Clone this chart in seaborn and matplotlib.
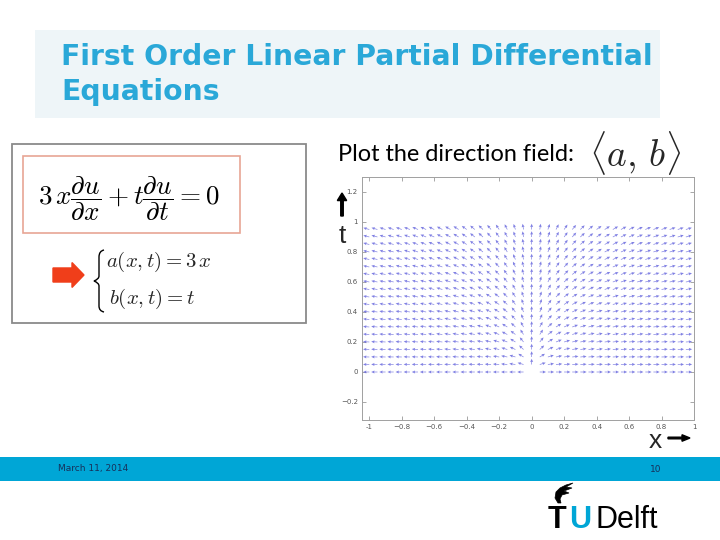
import numpy as np
import matplotlib.pyplot as plt
import seaborn as sns
from matplotlib.patches import Rectangle, FancyArrow, Polygon, PathPatch
from matplotlib.path import Path

sns.set_theme(style="white")
plt.rcParams['mathtext.fontset'] = 'cm'
plt.rcParams['font.family'] = ['DejaVu Sans']

# Grid of the direction field
x_grid = [-1.0, -0.95, -0.9, -0.85, -0.8, -0.75, -0.7, -0.65, -0.6, -0.55,
          -0.5, -0.45, -0.4, -0.35, -0.3, -0.25, -0.2, -0.15, -0.1, -0.05,
          0.0, 0.05, 0.1, 0.15, 0.2, 0.25, 0.3, 0.35, 0.4, 0.45,
          0.5, 0.55, 0.6, 0.65, 0.7, 0.75, 0.8, 0.85, 0.9, 0.95, 1.0]
t_grid = [0.0, 0.05, 0.1, 0.15, 0.2, 0.25, 0.3, 0.35, 0.4, 0.45,
          0.5, 0.55, 0.6, 0.65, 0.7, 0.75, 0.8, 0.85, 0.9, 0.95]
# coefficients of the PDE: a(x,t) = 3x, b(x,t) = t
a_coef = 3.0
b_coef = 1.0

x_ticks = [-1, -0.8, -0.6, -0.4, -0.2, 0, 0.2, 0.4, 0.6, 0.8, 1]
x_tick_labels = ['-1', '\u22120.8', '\u22120.6', '\u22120.4', '\u22120.2', '0',
                 '0.2', '0.4', '0.6', '0.8', '1']
t_ticks = [-0.2, 0, 0.2, 0.4, 0.6, 0.8, 1, 1.2]
t_tick_labels = ['\u22120.2', '0', '0.2', '0.4', '0.6', '0.8', '1', '1.2']

W, H = 720, 540


def fx(px):
    return px / W


def fy(py):
    return 1 - py / H


def fxy(pts):
    return [(fx(a), fy(b)) for a, b in pts]


fig = plt.figure(figsize=(7.2, 5.4), dpi=100)
fig.patch.set_facecolor('white')

# title bar
fig.patches.append(Rectangle((fx(35), fy(118)), fx(660) - fx(35), fy(30) - fy(118),
                             transform=fig.transFigure, facecolor='#eef5f8',
                             edgecolor='none', zorder=0))
fig.text(fx(61), fy(65), 'First Order Linear Partial Differential', color='#2aa8d8',
         fontsize=20.3, fontweight='bold', family='DejaVu Sans', va='baseline')
fig.text(fx(61), fy(100), 'Equations', color='#2aa8d8',
         fontsize=20.3, fontweight='bold', family='DejaVu Sans', va='baseline')

# left box with the equation
fig.patches.append(Rectangle((fx(12), fy(323)), fx(306) - fx(12), fy(144) - fy(323),
                             transform=fig.transFigure, facecolor='white',
                             edgecolor='#8a8a8a', lw=1.3, zorder=1))
fig.patches.append(Rectangle((fx(23), fy(233)), fx(240) - fx(23), fy(156) - fy(233),
                             transform=fig.transFigure, facecolor='white',
                             edgecolor='#e8a595', lw=1.2, zorder=2))
fig.text(fx(129), fy(199), r'$3\,x\dfrac{\partial u}{\partial x}+t\dfrac{\partial u}{\partial t}=0$',
         fontsize=19.5, ha='center', va='center', color='black', zorder=3)
fig.patches.append(FancyArrow(fx(53), fy(275), fx(19), 0, width=0.026,
                              head_width=0.046, head_length=fx(12),
                              length_includes_head=False,
                              transform=fig.transFigure, color='#f03e1a', zorder=3))
# curly brace
brace = [(104, 250), (99, 251), (99, 257), (99, 276), (99, 279), (94, 281),
         (99, 283), (99, 286), (99, 306), (99, 311), (104, 312)]
codes = [Path.MOVETO, Path.CURVE3, Path.CURVE3, Path.LINETO, Path.CURVE3, Path.CURVE3,
         Path.CURVE3, Path.CURVE3, Path.LINETO, Path.CURVE3, Path.CURVE3]
fig.patches.append(PathPatch(Path(fxy(brace), codes), transform=fig.transFigure,
                             facecolor='none', edgecolor='black', lw=1.0, zorder=3))
fig.text(fx(106), fy(262), r'$a(x,t)=3\,x$', fontsize=15, ha='left', va='center')
fig.text(fx(109), fy(299), r'$b(x,t)=t$', fontsize=15, ha='left', va='center')

# right header
fig.text(fx(338), fy(161), 'Plot the direction field:', fontsize=16.9, family='Lato',
         va='baseline', color='black')
fig.text(fx(589), fy(153), r'$\langle a,\, b\rangle$', fontsize=27, va='center')

# direction field axes
ax = fig.add_axes([fx(362), fy(420), fx(694) - fx(362), fy(177) - fy(420)])
X, T = np.meshgrid(x_grid, t_grid)
A = a_coef * X
B = b_coef * T
mag = np.hypot(A, B)
with np.errstate(invalid='ignore', divide='ignore'):
    U = np.ma.masked_invalid(A / mag)
    V = np.ma.masked_invalid(B / mag)
ax.quiver(X, T, U, V, angles='xy', scale_units='xy', scale=26, color='#6a6ade',
          width=0.002, headwidth=4.5, headlength=5, headaxislength=4.5, alpha=0.85)
ax.set_xlim(-1.045, 1.0)
ax.set_ylim(-0.32, 1.3)
ax.set_xticks(x_ticks)
ax.set_xticklabels(x_tick_labels)
ax.set_yticks(t_ticks)
ax.set_yticklabels(t_tick_labels)
ax.tick_params(direction='in', length=3, width=0.6, colors='#999999',
               labelcolor='#555555', labelsize=5, top=True, right=True,
               bottom=True, left=True, pad=3)
for s in ax.spines.values():
    s.set_color('#a0a0a0')
    s.set_linewidth(0.7)
ax.set_facecolor('white')

# axis annotations drawn on the slide
fig.patches.append(FancyArrow(fx(342), fy(216), 0, fy(193) - fy(216) - 0.014, width=0.0035,
                              head_width=0.013, head_length=0.014, transform=fig.transFigure,
                              color='black'))
fig.text(fx(342), fy(236), 't', fontsize=19, family='Liberation Sans', ha='center', va='center')
fig.text(fx(655), fy(441), 'x', fontsize=19, family='Liberation Sans', ha='center', va='center')
fig.patches.append(FancyArrow(fx(668), fy(438), fx(14), 0, width=0.003,
                              head_width=0.012, head_length=fx(8), transform=fig.transFigure,
                              color='black'))

# footer bar
fig.patches.append(Rectangle((0, fy(481)), 1, fy(457) - fy(481), transform=fig.transFigure,
                             facecolor='#00a6d6', edgecolor='none', zorder=0))
fig.text(fx(58), fy(469), 'March 11, 2014', fontsize=6.5, color='#17305a', va='center')
fig.text(fx(650), fy(469), '10', fontsize=6.5, color='#17305a', va='center')

# TU Delft logo
fig.text(fx(548), fy(528), 'T', fontsize=22, fontweight='bold', family='Liberation Sans',
         color='black', va='baseline')
fig.text(fx(569), fy(528), 'U', fontsize=22, fontweight='bold', family='Liberation Sans',
         color='#00a6d6', va='baseline')
fig.text(fx(595), fy(528), 'Delft', fontsize=22, family='Liberation Sans',
         color='black', va='baseline')
flame = [(558, 503), (555, 498), (556, 492), (560, 488), (566, 485), (573, 483),
         (566, 487), (572, 488), (564, 491), (569, 493), (562, 495), (560, 499), (561, 503)]
fig.patches.append(Polygon(fxy(flame), closed=True, transform=fig.transFigure,
                           facecolor='black', edgecolor='black', lw=0.5))

fig.savefig('out.png', dpi=100)
